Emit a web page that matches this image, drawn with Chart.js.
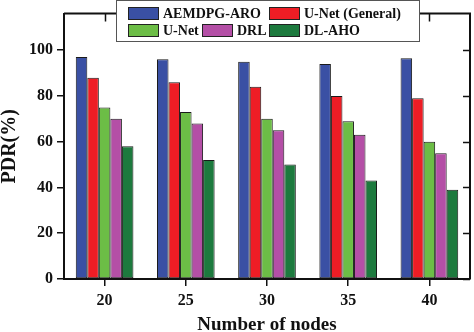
<!DOCTYPE html>
<html>
<head>
<meta charset="utf-8">
<script src="https://cdn.jsdelivr.net/npm/chart.js@4"></script>
<style>
  html, body { margin: 0; padding: 0; background: #fff; overflow: hidden; }
  #wrap { width: 474px; height: 332px; position: relative; }
</style>
</head>
<body>
<div id="wrap"><canvas id="c"></canvas></div>
<script>
// data
const nodes = [20, 25, 30, 35, 40];
const seriesNames = ['AEMDPG-ARO', 'U-Net (General)', 'U-Net', 'DRL', 'DL-AHO'];
const aemdpgAro = [97, 96, 95, 94, 96.5];
const unetGeneral = [88, 86, 84, 80, 79];
const unet = [75, 73, 70, 69, 60];
const drl = [70, 68, 65, 63, 55];
const dlAho = [58, 52, 50, 43, 39];
const yTickValues = [0, 20, 40, 60, 80, 100];

const colors = ['#3a50a4', '#ee1d25', '#6cbd46', '#b44fa6', '#1d7a3e'];
const FONT = "'Liberation Serif', 'Times New Roman', serif";

// Origin-style legend box (3 columns, 2 rows)
const legendSlots = [
  { x: 128, y: 7 }, { x: 269, y: 7 },
  { x: 128, y: 24 }, { x: 202, y: 24 }, { x: 269, y: 24 },
];

const legendPlugin = {
  id: 'boxLegend',
  afterDraw(chart) {
    const ctx = chart.ctx;
    ctx.save();
    ctx.fillStyle = '#fff';
    ctx.fillRect(117, 1, 302, 40);
    ctx.strokeStyle = '#555';
    ctx.lineWidth = 1;
    ctx.strokeRect(116.5, 0.5, 303, 41);
    ctx.font = 'bold 14px ' + FONT;
    ctx.textBaseline = 'middle';
    ctx.textAlign = 'left';
    chart.data.datasets.forEach((ds, i) => {
      const s = legendSlots[i];
      ctx.fillStyle = ds.backgroundColor;
      ctx.fillRect(s.x, s.y, 31, 13);
      ctx.strokeStyle = '#222';
      ctx.strokeRect(s.x + 0.5, s.y + 0.5, 30, 12);
      ctx.fillStyle = '#111';
      ctx.fillText(ds.label, s.x + 35, s.y + 7);
    });
    ctx.restore();
  }
};

// top/right frame with inward mirror ticks
const framePlugin = {
  id: 'frame',
  afterDatasetsDraw(chart) {
    const { ctx, chartArea: a, scales } = chart;
    ctx.save();
    ctx.strokeStyle = '#111';
    ctx.lineWidth = 2;
    ctx.beginPath();
    ctx.moveTo(a.left, a.top);
    ctx.lineTo(a.right, a.top);
    ctx.lineTo(a.right, a.bottom);
    ctx.stroke();
    ctx.lineWidth = 1.5;
    ctx.beginPath();
    nodes.forEach(v => {
      const px = Math.round(scales.x.getPixelForValue(v)) + 0.5;
      ctx.moveTo(px, a.top);
      ctx.lineTo(px, a.top + 8);
    });
    yTickValues.forEach(v => {
      const py = Math.round(scales.y.getPixelForValue(v)) + 0.5;
      ctx.moveTo(a.right, py);
      ctx.lineTo(a.right - 7, py);
    });
    ctx.stroke();
    ctx.restore();
  }
};

const seriesValues = [aemdpgAro, unetGeneral, unet, drl, dlAho];

new Chart(document.getElementById('c'), {
  type: 'bar',
  data: {
    labels: nodes,
    datasets: seriesNames.map((name, i) => ({
      label: name,
      data: seriesValues[i],
      backgroundColor: colors[i],
      borderColor: '#1a1a1a',
      borderWidth: 1,
      borderSkipped: false,
      categoryPercentage: 0.71,
      barPercentage: 1.0,
    })),
  },
  options: {
    responsive: true,
    maintainAspectRatio: false,
    animation: false,
    layout: { padding: { left: 0, top: 1, right: 4, bottom: 0 } },
    plugins: {
      legend: { display: false },
      tooltip: { enabled: false },
    },
    scales: {
      x: {
        type: 'linear',
        min: 17.5,
        max: 42.5,
        offset: false,
        afterBuildTicks: (axis) => { axis.ticks = nodes.map(v => ({ value: v })); },
        afterFit: (axis) => { axis.height = 53; },
        ticks: {
          color: '#111',
          padding: 5,
          font: { family: FONT, size: 16, weight: 'bold' },
        },
        grid: { offset: false, drawOnChartArea: false, tickLength: 7, color: '#111', lineWidth: 1.5 },
        border: { display: true, color: '#111', width: 2 },
        title: {
          display: true,
          text: 'Number of nodes',
          color: '#111',
          font: { family: FONT, size: 19, weight: 'bold' },
          padding: { top: 0, bottom: -4 },
        },
      },
      y: {
        min: 0,
        max: 116,
        afterBuildTicks: (axis) => { axis.ticks = yTickValues.map(v => ({ value: v })); },
        afterFit: (axis) => { axis.width = 64; },
        ticks: {
          color: '#111',
          padding: 4,
          font: { family: FONT, size: 16, weight: 'bold' },
        },
        grid: { drawOnChartArea: false, tickLength: 7, color: '#111', lineWidth: 1.5 },
        border: { display: true, color: '#111', width: 2 },
        title: {
          display: true,
          text: 'PDR(%)',
          color: '#111',
          font: { family: FONT, size: 20, weight: 'bold' },
          padding: { top: -2, bottom: 0 },
        },
      },
    },
  },
  plugins: [framePlugin, legendPlugin],
});
</script>
</body>
</html>
